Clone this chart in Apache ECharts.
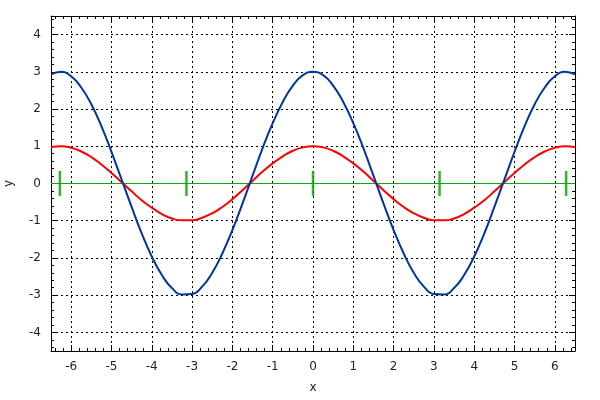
<!DOCTYPE html>
<html>
<head>
<meta charset="utf-8">
<script src="https://cdn.jsdelivr.net/npm/echarts@6/dist/echarts.min.js"></script>
<style>
  html, body { margin: 0; padding: 0; background: #fff; }
  #chart { width: 600px; height: 400px; }
</style>
</head>
<body>
<div id="chart"></div>
<script>
// sample points
const xs = [-6.5, -6.25, -6, -5.75, -5.5, -5.25, -5, -4.75, -4.5, -4.25, -4, -3.75, -3.5, -3.25, -3, -2.75, -2.5, -2.25, -2, -1.75, -1.5, -1.25, -1, -0.75, -0.5, -0.25,
  0, 0.25, 0.5, 0.75, 1, 1.25, 1.5, 1.75, 2, 2.25, 2.5, 2.75, 3, 3.25, 3.5, 3.75, 4, 4.25, 4.5, 4.75, 5, 5.25, 5.5, 5.75, 6, 6.25, 6.5]
const redY = [0.98, 1.00, 0.96, 0.86, 0.71, 0.51, 0.28, 0.04, -0.21, -0.45, -0.65, -0.82, -0.94, -0.99, -0.99, -0.92, -0.80, -0.63, -0.42, -0.18, 0.07, 0.32, 0.54, 0.73, 0.88, 0.97,
  1.00, 0.97, 0.88, 0.73, 0.54, 0.32, 0.07, -0.18, -0.42, -0.63, -0.80, -0.92, -0.99, -0.99, -0.94, -0.82, -0.65, -0.45, -0.21, 0.04, 0.28, 0.51, 0.71, 0.86, 0.96, 1.00, 0.98]
const blueY = [2.93, 3.00, 2.88, 2.58, 2.13, 1.54, 0.85, 0.11, -0.63, -1.34, -1.96, -2.46, -2.81, -2.98, -2.97, -2.77, -2.40, -1.88, -1.25, -0.54, 0.21, 0.95, 1.62, 2.19, 2.63, 2.91,
  3.00, 2.91, 2.63, 2.19, 1.62, 0.95, 0.21, -0.54, -1.25, -1.88, -2.40, -2.77, -2.97, -2.98, -2.81, -2.46, -1.96, -1.34, -0.63, 0.11, 0.85, 1.54, 2.13, 2.58, 2.88, 3.00, 2.93]

// green markers on the zero line
const markX = [-6.28, -3.14, 0, 3.14, 6.28]
const zeroLine = [[-6.5, 0], [6.5, 0]]

const xTicks = [-6, -5, -4, -3, -2, -1, 0, 1, 2, 3, 4, 5, 6]
const yTicks = [-4, -3, -2, -1, 0, 1, 2, 3, 4]

const minorOf = (lo, hi) => {
  const out = []
  for (let t = Math.floor(lo); t <= Math.ceil(hi); t++) {
    for (let k = 1; k < 5; k++) {
      const v = Math.round((t + k * 0.2) * 10) / 10
      if (v > lo && v < hi) out.push(v)
    }
  }
  return out
}
const xMinor = minorOf(-6.5, 6.5)
const yMinor = minorOf(-4.5, 4.5)

const font = { fontFamily: 'DejaVu Sans', fontSize: 12, color: '#222' }
const black = { color: '#000', width: 1 }

const axisPair = (pos, min, max, ticks, minor, main) => {
  const base = { type: 'value', position: pos, min, max }
  return [
    Object.assign({}, base, {
      axisLine: { show: true, onZero: false, lineStyle: black },
      axisTick: { show: true, inside: true, length: 6, customValues: ticks, lineStyle: black },
      axisLabel: main ? Object.assign({ show: true, customValues: ticks, margin: 10 }, font) : { show: false },
      splitLine: { show: main, lineStyle: { color: '#000', width: 1, type: [2, 3] } }
    }),
    Object.assign({}, base, {
      axisLine: { show: false, onZero: false },
      axisTick: { show: true, inside: true, length: 3, customValues: minor, lineStyle: black },
      axisLabel: { show: false },
      splitLine: { show: false }
    })
  ]
}

const xAxes = axisPair('bottom', -6.5, 6.5, xTicks, xMinor, true)
  .concat(axisPair('top', -6.5, 6.5, xTicks, xMinor, false))
xAxes[0].name = 'x'
xAxes[0].nameLocation = 'middle'
xAxes[0].nameGap = 31
xAxes[0].nameTextStyle = font

const yAxes = axisPair('left', -4.5, 4.5, yTicks, yMinor, true)
  .concat(axisPair('right', -4.5, 4.5, yTicks, yMinor, false))
yAxes[0].name = 'y'
yAxes[0].nameLocation = 'middle'
yAxes[0].nameGap = 36
yAxes[0].nameTextStyle = font

const chart = echarts.init(document.getElementById('chart'))
chart.setOption({
  animation: false,
  backgroundColor: '#fff',
  grid: { left: 51, right: 25, top: 16, bottom: 49, containLabel: false, outerBoundsMode: 'none' },
  xAxis: xAxes,
  yAxis: yAxes,
  series: [
    {
      type: 'line',
      data: zeroLine,
      symbol: 'none',
      z: 3,
      lineStyle: { color: '#00b000', width: 1.2 },
      silent: true
    },
    {
      type: 'scatter',
      data: markX.map(x => [x, 0]),
      symbol: 'rect',
      symbolSize: [2.5, 25],
      z: 3,
      itemStyle: { color: '#00a000' },
      silent: true
    },
    {
      type: 'line',
      data: xs.map((x, i) => [x, redY[i]]),
      symbol: 'none',
      smooth: true,
      z: 4,
      lineStyle: { color: '#ff0000', width: 2 }
    },
    {
      type: 'line',
      data: xs.map((x, i) => [x, blueY[i]]),
      symbol: 'none',
      smooth: true,
      z: 5,
      lineStyle: { color: '#0035a0', width: 2 }
    }
  ]
})
</script>
</body>
</html>
